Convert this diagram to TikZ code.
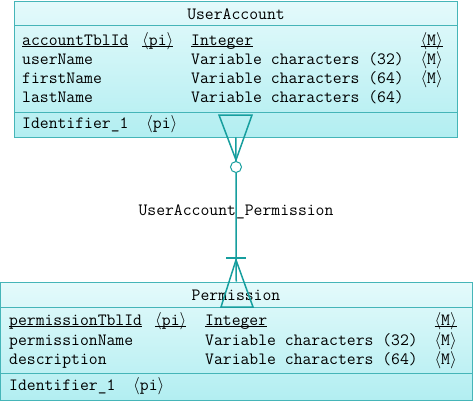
\documentclass[tikz,border=0pt]{standalone}
\usepackage{tikz}
\usetikzlibrary{positioning}

\definecolor{entline}{HTML}{45B5B8}
\definecolor{linkcol}{HTML}{169E9E}
\definecolor{entlight}{HTML}{E4FAFB}
\definecolor{entdark}{HTML}{B2EEF1}
\newcommand{\ang}[1]{$\langle$#1$\rangle$}
\newcommand{\ulkey}[1]{\underline{\smash{#1}}}

\begin{document}
\begin{tikzpicture}[x=1pt,y=-1pt,
	entity/.style={draw=entline, line width=0.8pt, top color=entlight, bottom color=entdark, inner sep=0pt},
	sep/.style={draw=entline, line width=0.8pt},
	txt/.style={inner sep=0pt, anchor=base west, font=\fontsize{17.2}{19}\ttfamily},
	link/.style={draw=linkcol, line width=1.5pt, line join=miter}]
			\useasboundingbox (0,0) rectangle (474,402);
			% Entities
			\node[entity, minimum width=442.5pt, minimum height=136pt] (ua) at (235.75,69) {};
			\node[entity, minimum width=471.5pt, minimum height=118pt] (perm) at (236.25,341) {};
			\draw[sep] (ua.west |- 0,25) -- (ua.east |- 0,25);
			\draw[sep] (ua.west |- 0,112) -- (ua.east |- 0,112);
			\draw[sep] (perm.west |- 0,307) -- (perm.east |- 0,307);
			\draw[sep] (perm.west |- 0,373) -- (perm.east |- 0,373);
			% UserAccount
			\node[txt, anchor=base] (ua-title) at (236,19) {UserAccount};
			\node[txt] (ua-n1) at (22,45) {\ulkey{accountTblId}};
			\node[txt] (ua-p1) at (142,45) {\ulkey{\ang{pi}}};
			\node[txt] (ua-t1) at (191,45) {\ulkey{Integer}};
			\node[txt, anchor=base east] (ua-m1) at (443,45) {\ulkey{\ang{M}}};
			\node[txt] (ua-n2) at (22,64) {userName};
			\node[txt] (ua-t2) at (191,64) {Variable characters (32)};
			\node[txt, anchor=base east] (ua-m2) at (443,64) {\ang{M}};
			\node[txt] (ua-n3) at (22,83) {firstName};
			\node[txt] (ua-t3) at (191,83) {Variable characters (64)};
			\node[txt, anchor=base east] (ua-m3) at (443,83) {\ang{M}};
			\node[txt] (ua-n4) at (22,102) {lastName};
			\node[txt] (ua-t4) at (191,102) {Variable characters (64)};
			\node[txt] (ua-id) at (22,128) {Identifier\_1\ \ \ang{pi}};
			% Permission
			\node[txt, anchor=base] (perm-title) at (236,300) {Permission};
			\node[txt] (perm-n1) at (9,325) {\ulkey{permissionTblId}};
			\node[txt] (perm-p1) at (155,325) {\ulkey{\ang{pi}}};
			\node[txt] (perm-t1) at (205,325) {\ulkey{Integer}};
			\node[txt, anchor=base east] (perm-m1) at (457,325) {\ulkey{\ang{M}}};
			\node[txt] (perm-n2) at (9,345) {permissionName};
			\node[txt] (perm-t2) at (205,345) {Variable characters (32)};
			\node[txt, anchor=base east] (perm-m2) at (457,345) {\ang{M}};
			\node[txt] (perm-n3) at (9,364) {description};
			\node[txt] (perm-t3) at (205,364) {Variable characters (64)};
			\node[txt, anchor=base east] (perm-m3) at (457,364) {\ang{M}};
			\node[txt] (perm-id) at (9,390) {Identifier\_1\ \ \ang{pi}};
			% Relationship
			\node[circle, draw=linkcol, fill=white, line width=1pt, minimum size=11pt, inner sep=0pt] (opt) at (236,167) {};
			\coordinate (ua-foot) at (236,160);
			\coordinate (perm-foot) at (236,260);
			\draw[link] (ua.south) -- (opt.north);
			\draw[link] (opt.south) -- (perm.north);
			\draw[link] (ua-foot) -- ([xshift=-17pt, yshift=45pt]ua-foot) -- ([xshift=16pt, yshift=45pt]ua-foot) -- cycle;
			\draw[link] (perm-foot) -- ([xshift=-15pt, yshift=-47pt]perm-foot) -- ([xshift=17pt, yshift=-47pt]perm-foot) -- cycle;
			\draw[link] ([xshift=-10pt, yshift=2pt]perm-foot) -- ([xshift=10pt, yshift=2pt]perm-foot);
			\node[txt, anchor=base] (rel) at (236,215) {UserAccount\_Permission};
		\end{tikzpicture}
\end{document}
